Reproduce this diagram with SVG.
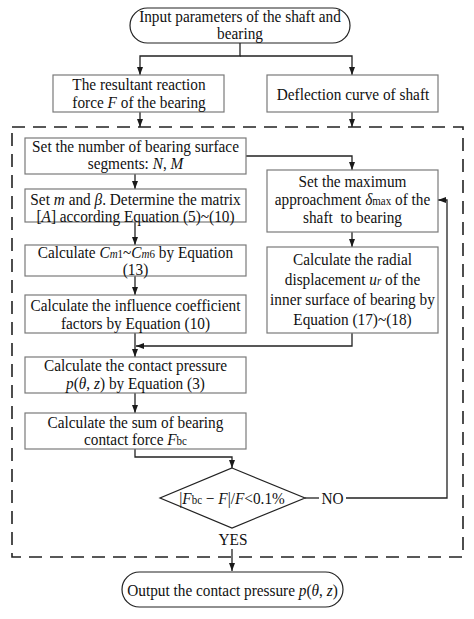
<svg xmlns="http://www.w3.org/2000/svg" width="474" height="619" viewBox="0 0 474 619">
<defs>
<marker id="ah" viewBox="0 0 8 6" refX="8" refY="3" markerWidth="8" markerHeight="6" markerUnits="userSpaceOnUse" orient="auto"><path d="M0,0 L8,3 L0,6 z" fill="#1a1a1a"/></marker>
</defs>
<style>
.box{fill:#fff;stroke:#7a7a7a;stroke-width:1.2}
.term{fill:#fff;stroke:#222;stroke-width:1.2}
.t{font-family:"Liberation Serif","Times New Roman",serif;font-size:15.3px;fill:#111;text-anchor:middle}
.i{font-style:italic}
.s{font-size:11px}
.c{fill:none;stroke:#222;stroke-width:1.3}
.ca{fill:none;stroke:#222;stroke-width:1.3;marker-end:url(#ah)}
.dash{fill:none;stroke:#222;stroke-width:1.6;stroke-dasharray:13 8}
</style>
<rect width="474" height="619" fill="#fff"/>
<rect id="loop-frame" class="dash" x="12" y="127" width="451" height="430"/>
<g id="connectors">
<path class="ca" d="M240,43 V56 H140 V75"/>
<path class="ca" d="M240,56 H352 V75"/>
<path class="ca" d="M140,112 V127"/>
<path class="ca" d="M352,112 V127"/>
<path class="ca" d="M246,156 H352 V170"/>
<path class="ca" d="M135,174 V189"/>
<path class="ca" d="M135,222 V245"/>
<path class="ca" d="M135,276 V295"/>
<path class="ca" d="M135,333 V357"/>
<path class="ca" d="M352,232 V247"/>
<path class="ca" d="M352,333 V346 H136"/>
<path class="ca" d="M135,393 V413"/>
<path class="ca" d="M135,449 V457 H232 V468"/>
<path class="c" d="M305,498 H319"/>
<path class="ca" d="M346,498 H447 V200 H438"/>
<path class="ca" d="M232,549 V571"/>
</g>
<g id="n-input">
<rect class="term" x="130" y="8" width="220" height="35" rx="17.5"/>
<text class="t" transform="translate(240,21.5) scale(1,1.1)">Input parameters of the shaft and</text>
<text class="t" transform="translate(240,38.5) scale(1,1.1)">bearing</text>
</g>
<g id="n-force">
<rect class="box" x="53" y="75" width="171" height="37"/>
<text class="t" transform="translate(139,90) scale(1,1.1)">The resultant reaction</text>
<text class="t" transform="translate(139,107.5) scale(1,1.1)">force <tspan class="i">F</tspan> of the bearing</text>
</g>
<g id="n-deflection">
<rect class="box" x="267" y="75" width="171" height="37"/>
<text class="t" transform="translate(353,99.5) scale(1,1.1)">Deflection curve of shaft</text>
</g>
<g id="n-segments">
<rect class="box" x="25" y="138" width="221" height="36"/>
<text class="t" transform="translate(135.5,152) scale(1,1.1)">Set the number of bearing surface</text>
<text class="t" transform="translate(135.5,169) scale(1,1.1)">segments: <tspan class="i">N</tspan>, <tspan class="i">M</tspan></text>
</g>
<g id="n-matrix">
<rect class="box" x="25" y="189" width="221" height="33"/>
<text class="t" transform="translate(135.5,204.5) scale(1,1.1)">Set <tspan class="i">m</tspan> and <tspan class="i">β</tspan>. Determine the matrix</text>
<text class="t" transform="translate(135.5,221.5) scale(1,1.1)">[<tspan class="i">A</tspan>] according Equation (5)~(10)</text>
</g>
<g id="n-cm">
<rect class="box" x="25" y="245" width="221" height="31"/>
<text class="t" transform="translate(135.5,257.5) scale(1,1.1)">Calculate <tspan class="i">C</tspan><tspan class="s i">m</tspan><tspan class="s">1</tspan>~<tspan class="i">C</tspan><tspan class="s i">m</tspan><tspan class="s">6</tspan> by Equation</text>
<text class="t" transform="translate(135.5,275) scale(1,1.1)">(13)</text>
</g>
<g id="n-influence">
<rect class="box" x="25" y="295" width="221" height="38"/>
<text class="t" transform="translate(135.5,310.5) scale(1,1.1)">Calculate the influence coefficient</text>
<text class="t" transform="translate(135.5,328.5) scale(1,1.1)">factors by Equation (10)</text>
</g>
<g id="n-pressure">
<rect class="box" x="25" y="357" width="221" height="36"/>
<text class="t" transform="translate(135.5,370.5) scale(1,1.1)">Calculate the contact pressure</text>
<text class="t" transform="translate(135.5,389) scale(1,1.1)"><tspan class="i">p</tspan>(<tspan class="i">θ</tspan>, <tspan class="i">z</tspan>) by Equation (3)</text>
</g>
<g id="n-sum">
<rect class="box" x="25" y="413" width="221" height="36"/>
<text class="t" transform="translate(135.5,427.5) scale(1,1.1)">Calculate the sum of bearing</text>
<text class="t" transform="translate(135.5,445) scale(1,1.1)">contact force <tspan class="i">F</tspan><tspan class="s">bc</tspan></text>
</g>
<g id="n-approach">
<rect class="box" x="267" y="170" width="171" height="62"/>
<text class="t" transform="translate(352.5,187) scale(1,1.1)">Set the maximum</text>
<text class="t" transform="translate(352.5,205) scale(1,1.1)">approachment <tspan class="i">δ</tspan><tspan class="s">max</tspan> of the</text>
<text class="t" transform="translate(352.5,223) scale(1,1.1)" xml:space="preserve">shaft  to bearing</text>
</g>
<g id="n-radial">
<rect class="box" x="267" y="247" width="171" height="86"/>
<text class="t" transform="translate(352.5,264.5) scale(1,1.1)">Calculate the radial</text>
<text class="t" transform="translate(352.5,284.5) scale(1,1.1)">displacement <tspan class="i">u</tspan><tspan class="s i">r</tspan> of the</text>
<text class="t" transform="translate(352.5,304.5) scale(1,1.1)">inner surface of bearing by</text>
<text class="t" transform="translate(352.5,324.5) scale(1,1.1)">Equation (17)~(18)</text>
</g>
<g id="n-check">
<polygon class="term" points="232,468 305,498 232,528 160,498"/>
<text class="t" transform="translate(232,503.5) scale(1,1.1)">|<tspan class="i">F</tspan><tspan class="s">bc</tspan> − <tspan class="i">F</tspan>|/<tspan class="i">F</tspan>&lt;0.1%</text>
</g>
<g id="labels">
<text class="t" transform="translate(332.5,503.5) scale(1,1.1)">NO</text>
<text class="t" transform="translate(233,545) scale(1,1.1)">YES</text>
</g>
<g id="n-output">
<rect class="term" x="122" y="572" width="221" height="35" rx="17.5"/>
<text class="t" transform="translate(232.5,595.5) scale(1,1.1)">Output the contact pressure <tspan class="i">p</tspan>(<tspan class="i">θ</tspan>, <tspan class="i">z</tspan>)</text>
</g>
</svg>
